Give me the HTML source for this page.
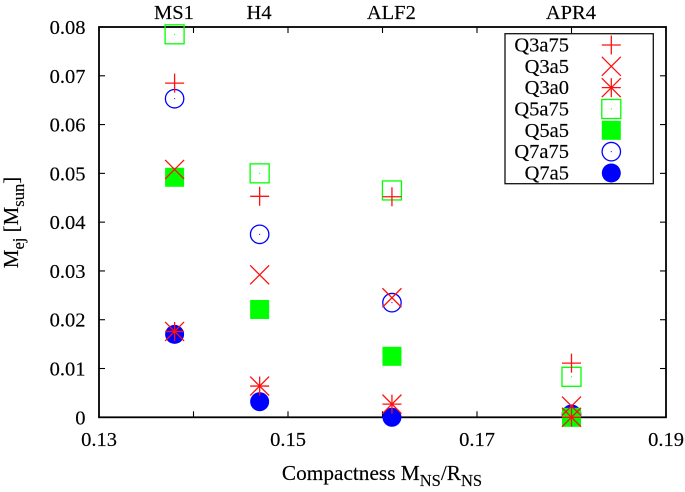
<!DOCTYPE html>
<html>
<head>
<meta charset="utf-8">
<title>Ejecta mass vs compactness</title>
<style>
html,body{margin:0;padding:0;background:#fff;width:685px;height:492px;overflow:hidden}
svg{display:block;filter:blur(0.3px)}
text{font-family:"Liberation Serif",serif;font-size:20.5px;fill:#000;stroke:#000;stroke-width:0.15px}
</style>
</head>
<body>
<svg id="chart" width="685" height="492" viewBox="0 0 685 492" xmlns="http://www.w3.org/2000/svg">
<g id="plot"></g>
<text x="382" y="480" text-anchor="middle" style="font-size:21.3px">Compactness M<tspan dy="6" style="font-size:16.5px">NS</tspan><tspan dy="-6">/R</tspan><tspan dy="6" style="font-size:16.5px">NS</tspan></text>
<text transform="translate(18,222.5) rotate(-90)" text-anchor="middle" style="font-size:21px">M<tspan dy="6" style="font-size:16.5px">ej</tspan><tspan dy="-6"> [M</tspan><tspan dy="6" style="font-size:16.5px">sun</tspan><tspan dy="-6">]</tspan></text>
</svg>
<script>
// Data
const eosNames = ['MS1', 'H4', 'ALF2', 'APR4'];
const compactness = [0.138, 0.147, 0.161, 0.18];
const xTicks = [0.13, 0.14, 0.15, 0.16, 0.17, 0.18, 0.19];
const xTickLabels = ['0.13', '', '0.15', '', '0.17', '', '0.19'];
const yTicks = [0, 0.01, 0.02, 0.03, 0.04, 0.05, 0.06, 0.07, 0.08];
const yTickLabels = ['0', '0.01', '0.02', '0.03', '0.04', '0.05', '0.06', '0.07', '0.08'];
const q3a75 = [0.0685, 0.0453, 0.0452, 0.0111];
const q3a5 = [0.0508, 0.0292, 0.0245, 0.0023];
const q3a0 = [0.0176, 0.0064, 0.0027, 0];
const q5a75 = [0.0785, 0.05, 0.0465, 0.0083];
const q5a5 = [0.0492, 0.0221, 0.0125, 0];
const q7a75 = [0.0653, 0.0375, 0.0235, 0.0006];
const q7a5 = [0.017, 0.0032, 0, 0.0006];
const seriesNames = ['Q3a75', 'Q3a5', 'Q3a0', 'Q5a75', 'Q5a5', 'Q7a75', 'Q7a5'];
const seriesValues = [q3a75, q3a5, q3a0, q5a75, q5a5, q7a75, q7a5];

// Axis functions
const plotLeft = 99, plotRight = 666, plotTop = 27, plotBottom = 417.3;
function xScale(v) { return plotLeft + (v - 0.13) / (0.19 - 0.13) * (plotRight - plotLeft); }
function yScale(v) { return plotBottom - v / 0.08 * (plotBottom - plotTop); }

const NS = 'http://www.w3.org/2000/svg';
const chart = document.getElementById('chart');
const plot = document.getElementById('plot');
function make(tag, parent, props) {
  const el = document.createElementNS(NS, tag);
  for (const k in props) el.setAttribute(k, props[k]);
  parent.appendChild(el);
  return el;
}
const RED = '#ff1010', GREEN = '#00ff00', BLUE = '#0000ff';
const S = 9.5;

function drawMarker(parent, name, cx, cy) {
  const g = make('g', parent, {});
  
  
  const line = (x1, y1, x2, y2) => make('line', g, {x1: cx + x1, y1: cy + y1, x2: cx + x2, y2: cy + y2, stroke: RED, 'stroke-width': 1.3});
  const dot = (c) => make('rect', g, {x: cx - 0.5, y: cy - 0.5, width: 1, height: 1, fill: c});
  if (name === 'Q3a75') { line(-S, 0, S, 0); line(0, -S, 0, S); }
  if (name === 'Q3a5') { line(-S, -S, S, S); line(-S, S, S, -S); }
  if (name === 'Q3a0') { line(-S, 0, S, 0); line(0, -S, 0, S); line(-S, -S, S, S); line(-S, S, S, -S); }
  if (name === 'Q5a75') { make('rect', g, {x: cx - S, y: cy - S, width: 2 * S, height: 2 * S, fill: 'none', stroke: GREEN, 'stroke-width': 1.3}); dot(GREEN); }
  if (name === 'Q5a5') { make('rect', g, {x: cx - S, y: cy - S, width: 2 * S, height: 2 * S, fill: GREEN}); }
  if (name === 'Q7a75') { make('circle', g, {cx: cx, cy: cy, r: S - 0.3, fill: 'none', stroke: BLUE, 'stroke-width': 1.3}); dot(BLUE); }
  if (name === 'Q7a5') { make('circle', g, {cx: cx, cy: cy, r: S, fill: BLUE}); }
}

// Ticks
xTicks.forEach(function (t, i) {
  const x = xScale(t);
  const b = make('line', plot, {x1: x, y1: plotBottom, x2: x, y2: plotBottom - 6, stroke: '#000', 'stroke-width': 1.1});
  
  
  const a = make('line', plot, {x1: x, y1: plotTop, x2: x, y2: plotTop + 6, stroke: '#000', 'stroke-width': 1.1});
  
  
  if (xTickLabels[i]) {
    const l = make('text', chart, {x: x, y: 446, 'text-anchor': 'middle'});
    
    
    l.textContent = xTickLabels[i];
  }
});
yTicks.forEach(function (t, i) {
  const y = yScale(t);
  const a = make('line', plot, {x1: plotLeft, y1: y, x2: plotLeft + 6, y2: y, stroke: '#000', 'stroke-width': 1.1});
  
  
  const b = make('line', plot, {x1: plotRight, y1: y, x2: plotRight - 6, y2: y, stroke: '#000', 'stroke-width': 1.1});
  
  
  const l = make('text', chart, {x: 85.5, y: y + 7, 'text-anchor': 'end'});
  
  
  l.textContent = yTickLabels[i];
});

// Border
const border = make('rect', plot, {x: plotLeft, y: plotTop, width: plotRight - plotLeft, height: plotBottom - plotTop, fill: 'none', stroke: '#000', 'stroke-width': 1.8});



// EOS labels along the top
eosNames.forEach(function (n, i) {
  const l = make('text', chart, {x: xScale(compactness[i]) - 0.6, y: 19, 'text-anchor': 'middle'});
  
  
  l.textContent = n;
});

// Series, drawn in reverse so the red markers end up on top
for (let s = seriesNames.length - 1; s >= 0; s--) {
  const g = make('g', plot, {});
  
  
  seriesValues[s].forEach(function (v, i) {
    drawMarker(g, seriesNames[s], xScale(compactness[i]), yScale(v));
  });
}

// Legend
const legend = make('g', chart, {});


const legendBox = make('rect', legend, {x: 505, y: 33.7, width: 148.3, height: 150, fill: '#fff', stroke: '#111', 'stroke-width': 1.3});


seriesNames.forEach(function (n, i) {
  const y = 45 + i * 21.33;
  const entry = make('g', legend, {});
  
  
  const t = make('text', entry, {x: 569, y: y + 6.5, 'text-anchor': 'end'});
  
  
  t.textContent = n;
  drawMarker(entry, n, 611.3, y);
});
</script>
</body>
</html>
